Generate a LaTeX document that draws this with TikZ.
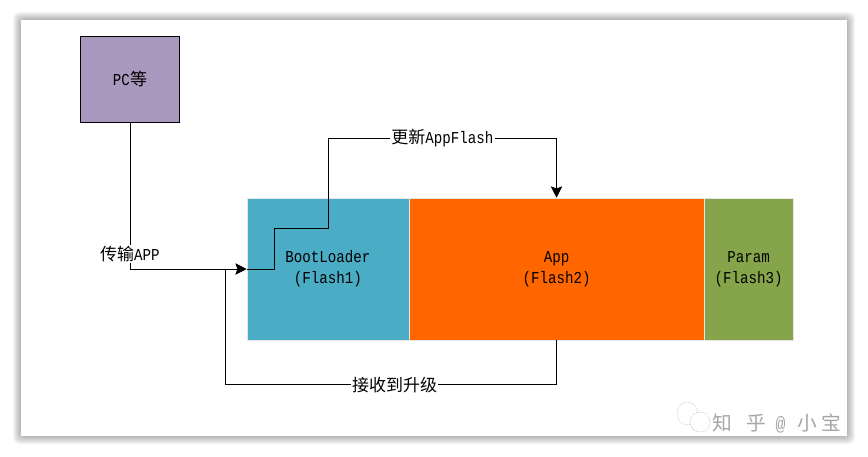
\documentclass[tikz,border=0pt]{standalone}
\usepackage{fontspec}
\usepackage{xcolor}
\setmainfont{Liberation Mono}[FakeStretch=0.85]
\newfontfamily\cjk{Noto Sans CJK SC}[Scale=1.02]
\usetikzlibrary{arrows.meta,positioning}

\definecolor{pcpurple}{HTML}{A898BD}
\definecolor{bootteal}{HTML}{4BACC6}
\definecolor{apporange}{HTML}{FF6600}
\definecolor{paramgreen}{HTML}{86A54A}

\tikzset{
	flash/.style={draw=white!80!gray,thin,inner sep=0pt,minimum height=106.5pt,align=center,
		font=\fontsize{12.5}{15.75}\selectfont},
	label/.style={fill=white,inner sep=1pt,font=\fontsize{12.5}{15}\selectfont},
	link/.style={draw=black,line width=0.75pt},
	tip/.style={-{Stealth[length=8.5pt,width=8.5pt,inset=1.5pt]}},
}

\begin{document}
\begin{tikzpicture}[x=0.75pt,y=-0.75pt]
	\useasboundingbox (0,0) rectangle (868,457);

	% soft shadow round the sheet
	\foreach \i in {1,...,8}{
		\fill[black,opacity=0.04,rounded corners=4pt] (21-\i,20-\i) rectangle (847+\i,436+\i);
	}
	\fill[white] (21,20) rectangle (847,436);

	\node[draw=black,line width=0.75pt,fill=pcpurple,inner sep=0pt,minimum width=74.5pt,minimum height=65pt,
		font=\fontsize{12.5}{15}\selectfont] (pc) at (130,79.5) {\raisebox{1.5pt}{PC{\cjk 等}}};

	\node[flash,fill=bootteal,minimum width=121.5pt] (flash1) at (328,269) {BootLoader\\(Flash1)};
	\node[flash,fill=apporange,minimum width=221pt] (flash2) at (556.5,269) {App\\(Flash2)};
	\node[flash,fill=paramgreen,minimum width=66.5pt] (flash3) at (748.5,269) {Param\\(Flash3)};

	% PC to BootLoader
	\coordinate (corner1) at (130,269);
	\draw[link,tip] (pc.south)--(corner1)--(flash1.west);
	\node[label] (lbl1) at (130,254) {{\cjk 传输}APP};

	% BootLoader to App
	\coordinate (step1) at (274,269);
	\coordinate (step2) at (274,228);
	\coordinate (step3) at (328,228);
	\coordinate (step4) at (328,138.5);
	\coordinate (step5) at (flash2.north|-step4);
	\draw[link,tip] (flash1.west)--(step1)--(step2)--(step3)--(step4)--(step5)--(flash2.north);
	\node[label] (lbl2) at (442.5,138) {{\cjk 更新}AppFlash};

	% App back to BootLoader
	\coordinate (back1) at (flash2.south|-0,384.5);
	\coordinate (back2) at (225,384.5);
	\coordinate (back3) at (225,269);
	\draw[link] (flash2.south)--(back1)--(back2)--(back3);
	\node[label] (lbl3) at (394.5,385.5) {\cjk 接收到升级};

	% watermark
	\draw[gray!80,thin,densely dotted,fill=white] (687.5,413.5) ellipse (10.5 and 11.5);
	\draw[gray!80,thin,densely dotted,fill=white] (700,422) ellipse (10 and 10);
	\node[text=gray!70,inner sep=0pt,font=\fontsize{14.5}{15}\selectfont] (mark) at (776.5,423) {{\cjk 知}\hspace{11pt}{\cjk 乎}\hspace{7pt}@\hspace{9pt}{\cjk 小}\hspace{3pt}{\cjk 宝}};
\end{tikzpicture}
\end{document}
